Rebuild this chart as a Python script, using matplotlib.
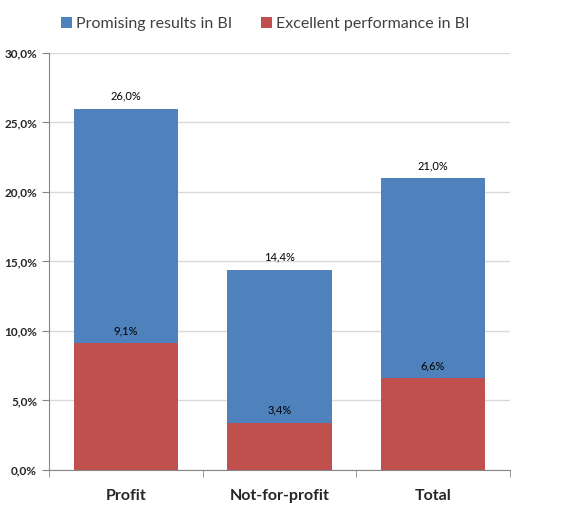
import matplotlib.pyplot as plt
from matplotlib.ticker import FuncFormatter, FixedLocator

plt.rcParams['font.family'] = ['Lato', 'DejaVu Sans']

categories = ['Profit', 'Not-for-profit', 'Total']
promising = [26.0, 14.4, 21.0]
excellent = [9.1, 3.4, 6.6]

blue = '#4F81BD'
red = '#C0504D'
grey = '#868686'

fig = plt.figure(figsize=(5.8, 5.14), dpi=100)
ax = fig.add_axes([0.0845, 0.0856, 0.7945, 0.8114])

x = range(len(categories))
b1 = ax.bar(x, promising, width=0.68, color=blue, label='Promising results in BI', zorder=2)
b2 = ax.bar(x, excellent, width=0.68, color=red, label='Excellent performance in BI', zorder=3)

fmt = lambda v: f'{v:.1f}%'.replace('.', ',')
for bars, vals in [(b1, promising), (b2, excellent)]:
    for rect, v in zip(bars, vals):
        ax.annotate(fmt(v), (rect.get_x() + rect.get_width() / 2, v),
                    xytext=(0, 5), textcoords='offset points',
                    ha='center', va='bottom', fontsize=8, color='black', zorder=4)

ax.set_xlim(-0.5, 2.5)
ax.set_ylim(0, 30)
ax.set_yticks(range(0, 31, 5))
ax.yaxis.set_major_formatter(FuncFormatter(lambda v, p: fmt(v)))
ax.grid(axis='y', color='#D9D9D9', linewidth=1, zorder=0)
ax.set_axisbelow(True)

ax.set_xticks(list(x))
ax.set_xticklabels(categories, fontsize=11.5, fontweight='bold', color='#262626')
ax.tick_params(axis='x', which='major', length=0, pad=14)
ax.xaxis.set_minor_locator(FixedLocator([-0.5, 0.5, 1.5, 2.5]))
ax.tick_params(axis='x', which='minor', length=5, color=grey, direction='out')
ax.tick_params(axis='y', length=5, color=grey, labelsize=8.5, labelcolor='#262626')
for lab in ax.get_yticklabels():
    lab.set_fontweight('bold')

for s in ['top', 'right']:
    ax.spines[s].set_visible(False)
for s in ['left', 'bottom']:
    ax.spines[s].set_color(grey)

fig.legend(handles=[b1, b2], loc='upper center', bbox_to_anchor=(0.457, 0.995), ncol=2,
           frameon=False, fontsize=11.5, handlelength=0.7, handleheight=0.7,
           handletextpad=0.25, columnspacing=1.8, labelcolor='#404040')

fig.savefig('out.png', dpi=100)
